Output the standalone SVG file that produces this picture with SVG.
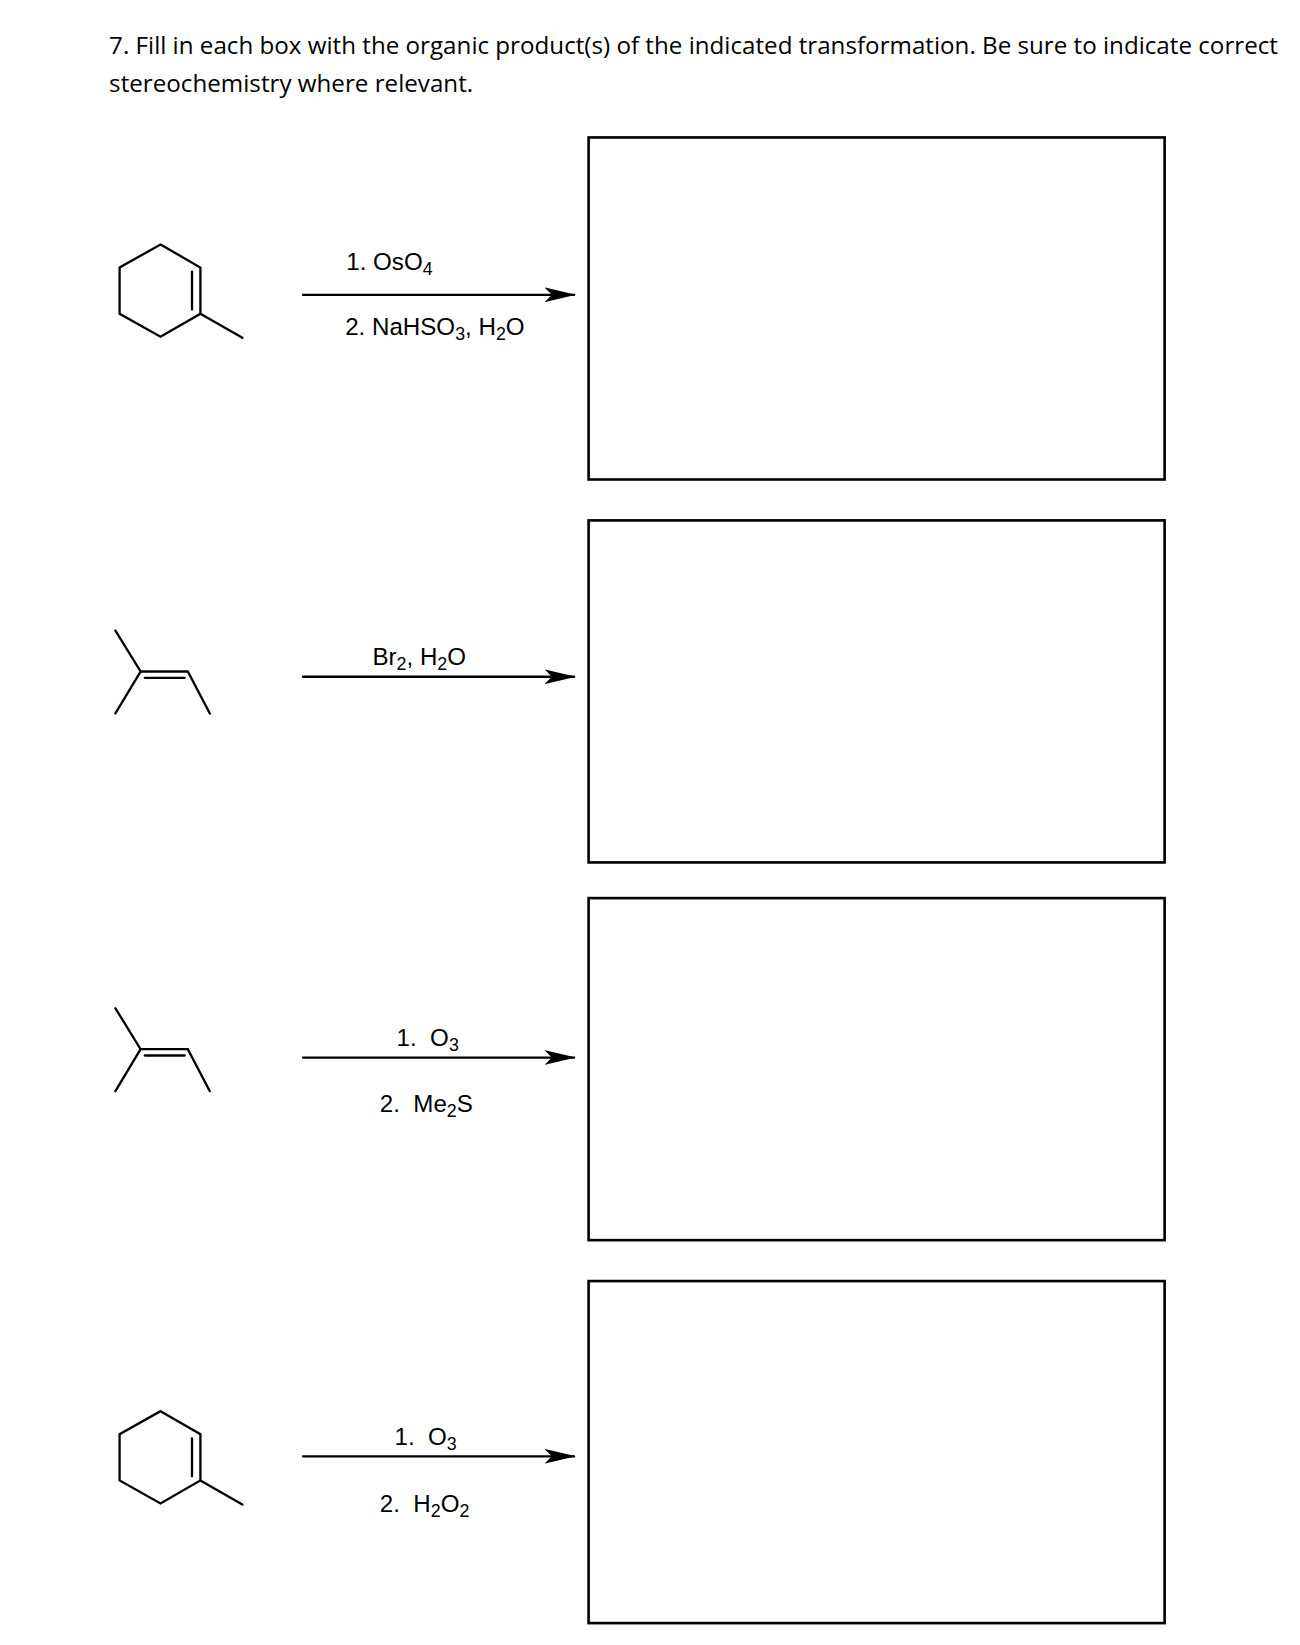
<svg xmlns="http://www.w3.org/2000/svg" width="1300" height="1645" viewBox="0 0 1300 1645">
<style>
.t{font-family:"Open Sans","Liberation Sans",sans-serif;font-size:22px;fill:#000}
.r{font-family:"Liberation Sans",Arial,sans-serif;font-size:23px;fill:#000}
.s{font-size:17px}
.b{fill:none;stroke:#000;stroke-width:2.5}
.m{fill:none;stroke:#000;stroke-width:2.2;stroke-linecap:round}
.a{stroke:#000;stroke-width:2.2}
</style>
<defs>
<marker id="ah" markerWidth="30" markerHeight="14" refX="29" refY="7" orient="auto" markerUnits="userSpaceOnUse"><path d="M0,0 L30,7 L0,14 L7,7 Z" fill="#000"/></marker>
<g id="chx" class="m"><path d="M153,233 L191,255 L191,299 L153,321 L114,299 L114,255 Z"/><path d="M183,259 L183,295"/><path d="M191,299 L231,322"/></g>
<g id="alk" class="m"><path d="M110,601 L134,640 L110,680"/><path d="M134,640 L179,640 L200,680"/><path d="M138,646 L176,646"/></g>
</defs>
<rect width="1300" height="1645" fill="#fff"/>
<g transform="scale(1.0492)">
<g id="title"><text class="t" x="104" y="51" textLength="1114" lengthAdjust="spacingAndGlyphs">7. Fill in each box with the organic product(s) of the indicated transformation. Be sure to indicate correct</text><text class="t" x="104" y="88" textLength="347" lengthAdjust="spacingAndGlyphs">stereochemistry where relevant.</text></g>
<g id="box1"><rect class="b" x="561" y="131" width="549" height="326"/></g>
<g id="box2"><rect class="b" x="561" y="496" width="549" height="326"/></g>
<g id="box3"><rect class="b" x="561" y="856" width="549" height="326"/></g>
<g id="box4"><rect class="b" x="561" y="1221" width="549" height="326"/></g>
<g id="mol1"><use href="#chx"/></g>
<g id="mol2"><use href="#alk"/></g>
<g id="mol3"><use href="#alk" y="360"/></g>
<g id="mol4"><use href="#chx" y="1112"/></g>
<g id="connectors">
<line class="a" x1="288" y1="281" x2="548" y2="281" marker-end="url(#ah)"/>
<line class="a" x1="288" y1="645" x2="548" y2="645" marker-end="url(#ah)"/>
<line class="a" x1="288" y1="1008" x2="548" y2="1008" marker-end="url(#ah)"/>
<line class="a" x1="288" y1="1388" x2="548" y2="1388" marker-end="url(#ah)"/>
</g>
<g id="labels">
<text class="r" x="330" y="257">1. OsO<tspan class="s" dy="5">4</tspan></text>
<text class="r" x="329" y="319">2. NaHSO<tspan class="s" dy="5">3</tspan><tspan dy="-5">, H</tspan><tspan class="s" dy="5">2</tspan><tspan dy="-5">O</tspan></text>
<text class="r" x="355" y="634">Br<tspan class="s" dy="5">2</tspan><tspan dy="-5">, H</tspan><tspan class="s" dy="5">2</tspan><tspan dy="-5">O</tspan></text>
<text class="r" x="378" y="997" xml:space="preserve">1.  O<tspan class="s" dy="5">3</tspan></text>
<text class="r" x="362" y="1060" xml:space="preserve">2.  Me<tspan class="s" dy="5">2</tspan><tspan dy="-5">S</tspan></text>
<text class="r" x="376" y="1377" xml:space="preserve">1.  O<tspan class="s" dy="5">3</tspan></text>
<text class="r" x="362" y="1441" xml:space="preserve">2.  H<tspan class="s" dy="5">2</tspan><tspan dy="-5">O</tspan><tspan class="s" dy="5">2</tspan></text>
</g>
</g>
</svg>
